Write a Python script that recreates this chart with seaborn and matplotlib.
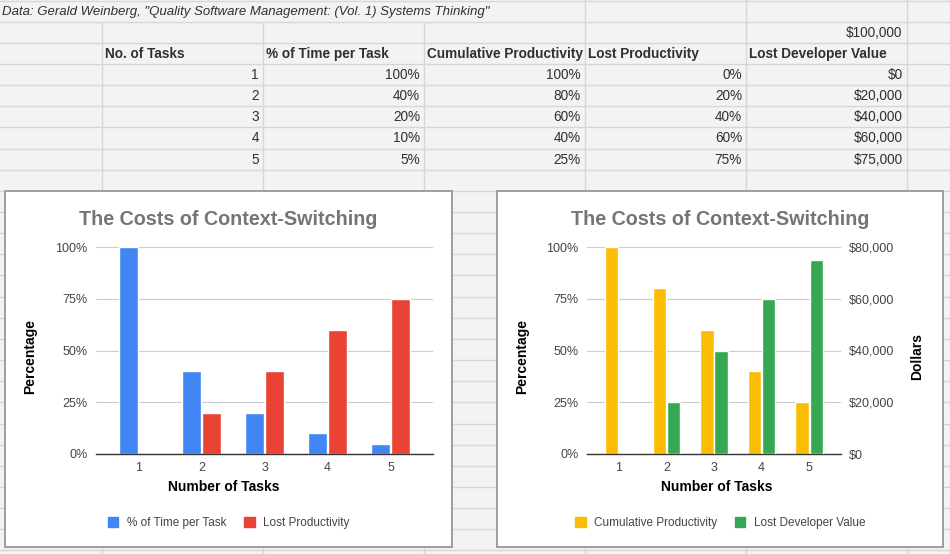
import numpy as np
import pandas as pd
import seaborn as sns
import matplotlib.pyplot as plt
from matplotlib.patches import Patch, Rectangle
from matplotlib.ticker import FuncFormatter

sns.set_theme(style="white")
plt.rcParams['font.family'] = ['Liberation Sans', 'DejaVu Sans']

# data from the sheet
source_note = 'Data: Gerald Weinberg, "Quality Software Management: (Vol. 1) Systems Thinking"'
developer_salary = 100000
tasks = [1, 2, 3, 4, 5]
time_per_task = [100, 40, 20, 10, 5]
cumulative_productivity = [100, 80, 60, 40, 25]
lost_productivity = [0, 20, 40, 60, 75]
lost_developer_value = [0, 20000, 40000, 60000, 75000]
headers = ["No. of Tasks", "% of Time per Task", "Cumulative Productivity",
           "Lost Productivity", "Lost Developer Value"]
chart_title = "The Costs of Context-Switching"

blue, red, yellow, green = "#4285F4", "#EA4335", "#FBBC04", "#34A853"
W, H = 950, 554

fig = plt.figure(figsize=(9.5, 5.54), dpi=100)
fig.patch.set_facecolor("#f3f3f3")

# spreadsheet background (pixel coords)
bg = fig.add_axes([0, 0, 1, 1])
bg.set_xlim(0, W)
bg.set_ylim(H, 0)
bg.axis("off")
grid_c = "#d6d6d6"
row_y = [0.5 + 21.15 * k for k in range(27)]
col_x = [101.5, 262.5, 423.5, 584.5, 745.5, 906.5]
for y in row_y:
    bg.plot([0, W], [y, y], color=grid_c, lw=1)
for x in col_x:
    y0 = 0 if x > 500 else row_y[1]
    bg.plot([x, x], [y0, H], color=grid_c, lw=1)

txt = dict(fontsize=9.8, color="#303030", va="center")
bg.text(2, 11.5, source_note, style="italic", ha="left",
        **{**txt, "fontsize": 9.5})
bg.text(902, 33, f"${developer_salary:,}", ha="right", **txt)
for x, h in zip(col_x[:5], headers):
    bg.text(x + 3.5, 54, h, ha="left", fontweight="bold", **txt)
for i, t in enumerate(tasks):
    yc = 75 + 21.15 * i
    cells = [str(t), f"{time_per_task[i]}%", f"{cumulative_productivity[i]}%",
             f"{lost_productivity[i]}%", f"${lost_developer_value[i]:,}"]
    for x, c in zip(col_x[1:], cells):
        bg.text(x - 3.5, yc, c, ha="right", **txt)

# chart boxes
for x0, x1 in [(5, 452), (497, 943)]:
    bg.add_patch(Rectangle((x0, 191), x1 - x0, 356, facecolor="white",
                           edgecolor="#9e9e9e", lw=1.4, zorder=3))


def fax(l, r):
    return fig.add_axes([l / W, 1 - 454 / H, (r - l) / W, 207 / H])


def style_axis(ax):
    for s in ["top", "left", "right"]:
        ax.spines[s].set_visible(False)
    ax.spines["bottom"].set_color("#333333")
    ax.spines["bottom"].set_linewidth(1)
    ax.set_facecolor("none")
    ax.grid(axis="y", color="#cccccc", lw=0.8)
    ax.set_axisbelow(True)
    ax.tick_params(axis="both", length=0, labelsize=9, labelcolor="#444444")
    ax.tick_params(axis="y", pad=6)
    ax.tick_params(axis="x", pad=6)
    ax.set_ylim(0, 100)
    ax.set_yticks([0, 25, 50, 75, 100])
    ax.yaxis.set_major_formatter(FuncFormatter(lambda v, p: f"{v:.0f}%"))
    ax.set_xlim(-0.67, 4.67)


def labels(ax, cx, ly):
    ax.set_xlabel("Number of Tasks", fontsize=10, fontweight="bold", color="black", va="center")
    ax.xaxis.set_label_coords(cx / W, 1 - 487 / H, transform=fig.transFigure)
    ax.set_ylabel("Percentage", fontsize=10, fontweight="bold", color="black", va="center")
    ax.yaxis.set_label_coords(ly / W, 1 - 357 / H, transform=fig.transFigure)


def legend(handles, cx):
    fig.legend(handles=handles, loc="center", bbox_to_anchor=(cx / W, 1 - 523 / H),
               ncol=2, frameon=False, fontsize=8.5, handlelength=0.9, handleheight=0.9,
               handletextpad=0.7, columnspacing=1.5, labelcolor="#444444")


# left chart
df_left = pd.DataFrame({"tasks": tasks * 2,
                        "value": time_per_task + lost_productivity,
                        "series": ["% of Time per Task"] * 5 + ["Lost Productivity"] * 5})
ax1 = fax(96, 433)
sns.barplot(data=df_left, x="tasks", y="value", hue="series", palette=[blue, red],
            width=0.64, gap=0.06, saturation=1, errorbar=None, legend=False, ax=ax1)
style_axis(ax1)
labels(ax1, 224, 30)
fig.text(228.5 / W, 1 - 219 / H, chart_title, ha="center", va="center",
         fontsize=14.2, fontweight="bold", color="#757575")
legend([Patch(color=blue, label="% of Time per Task"),
        Patch(color=red, label="Lost Productivity")], 228.5)

# right chart: percent series on the left axis, dollars on the right axis
hue_right = ["Cumulative Productivity", "Lost Developer Value"]
df_right = pd.DataFrame({
    "tasks": tasks * 2,
    "series": [hue_right[0]] * 5 + [hue_right[1]] * 5,
    "pct": cumulative_productivity + [np.nan] * 5,
    "dollars": [np.nan] * 5 + lost_developer_value,
})
ax3 = fax(587, 841)
sns.barplot(data=df_right, x="tasks", y="pct", hue="series", palette=[yellow, green],
            width=0.6, gap=0.07, saturation=1, errorbar=None, legend=False, ax=ax3)
style_axis(ax3)
labels(ax3, 717, 522)
ax4 = ax3.twinx()
sns.barplot(data=df_right, x="tasks", y="dollars", hue="series", palette=[yellow, green],
            width=0.6, gap=0.07, saturation=1, errorbar=None, legend=False, ax=ax4)
for s in ax4.spines.values():
    s.set_visible(False)
ax4.set_ylim(0, 80000)
ax4.set_yticks([0, 20000, 40000, 60000, 80000])
ax4.yaxis.set_major_formatter(FuncFormatter(lambda v, p: f"${v:,.0f}"))
ax4.tick_params(axis="y", length=0, labelsize=9, labelcolor="#444444", pad=6)
ax4.set_ylabel("Dollars", fontsize=10, fontweight="bold", color="black", va="center")
ax4.yaxis.set_label_coords(917 / W, 1 - 357 / H, transform=fig.transFigure)
ax4.set_xlim(-0.67, 4.67)
ax4.set_xlabel("")
ax4.grid(False)
fig.text(720 / W, 1 - 219 / H, chart_title, ha="center", va="center",
         fontsize=14.2, fontweight="bold", color="#757575")
legend([Patch(color=yellow, label=hue_right[0]),
        Patch(color=green, label=hue_right[1])], 720)

fig.savefig("out.png", dpi=100, facecolor=fig.get_facecolor())
